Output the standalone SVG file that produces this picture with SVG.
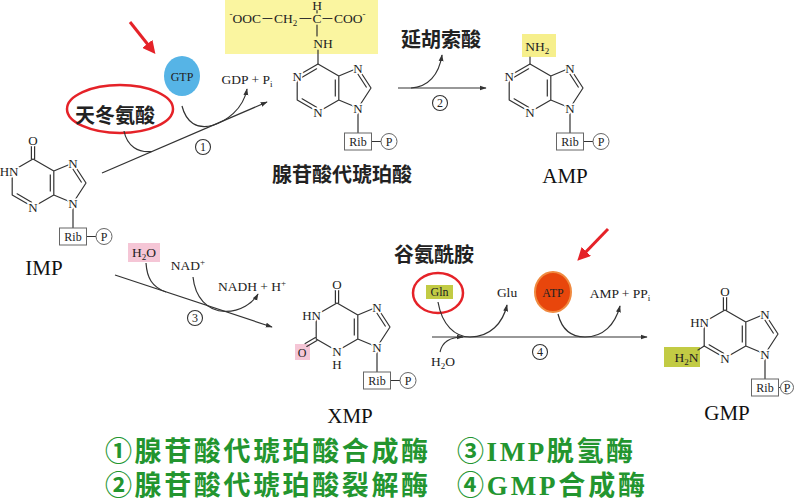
<svg xmlns="http://www.w3.org/2000/svg" width="796" height="502" viewBox="0 0 796 502">
<defs>
<style>
.b{stroke:#333;stroke-width:1.2;fill:none;stroke-linecap:round}
.a{font-family:"Liberation Serif",serif;font-size:13px;fill:#222;text-anchor:middle;stroke:#fff;stroke-width:3px;paint-order:stroke;stroke-linejoin:round}
.ar{font-family:"Liberation Serif",serif;font-size:13px;fill:#222;text-anchor:end;stroke:#fff;stroke-width:3px;paint-order:stroke;stroke-linejoin:round}
.t{font-family:"Liberation Serif",serif;font-size:13.5px;fill:#222}
.tm{font-family:"Liberation Serif",serif;font-size:12px;fill:#222;text-anchor:middle}
.lm{font-family:"Liberation Serif",serif;font-size:13.5px;fill:#222;text-anchor:middle}
.box{fill:#fff;stroke:#666;stroke-width:1}
.nm{font-family:"Liberation Serif",serif;font-size:21px;fill:#111;text-anchor:middle}
.cn{font-family:"Noto Sans CJK SC",sans-serif;font-size:20px;font-weight:700;fill:#222;text-anchor:middle}
.c{stroke:#333;stroke-width:1.2;fill:none}
.num{fill:#fff;stroke:#333;stroke-width:1.1}
.enz{font-family:"Noto Sans CJK SC",sans-serif;font-size:27px;font-weight:700;fill:#23952f}
.red{stroke:#e52228;stroke-width:3;fill:none}
.ring{stroke:#e52228;stroke-width:2.5;fill:none}
</style>
<path id="skel" stroke="#333" stroke-width="1.2" fill="none" stroke-linejoin="round" d="M0,-24 L-20.8,-12 L-20.8,12 L0,24 L20.8,12 L20.8,-12 Z M20.8,-12 L40,-20 L53,0 L40,20 L20.8,12 M17.3,-8.4 V8.4 M39.5,-14.5 L48.6,-0.5"/>
<marker id="ah" viewBox="0 0 10 10" refX="9" refY="5" markerWidth="7" markerHeight="7" markerUnits="userSpaceOnUse" orient="auto"><path d="M0,1.5 L10,5 L0,8.5 z" fill="#333"/></marker>
<marker id="rah" viewBox="0 0 10 10" refX="7" refY="5" markerWidth="13" markerHeight="13" markerUnits="userSpaceOnUse" orient="auto"><path d="M0,0 L10,5 L0,10 z" fill="#e52228"/></marker>
</defs>
<rect width="796" height="502" fill="#fff"/>

<!-- IMP -->
<g id="IMP">
<g transform="translate(33,183)">
<use href="#skel"/>
<path class="b" d="M-15.9,10.8 L-1.4,19.2 M-1.6,-24 V-37 M1.6,-24 V-37 M40,25 V45 M53.5,53.5 H63"/>
<text class="a" x="0" y="-38">O</text>
<text class="ar" x="-14.5" y="-7.5">HN</text>
<text class="a" x="0" y="28.5">N</text>
<text class="a" x="40" y="-15.5">N</text>
<text class="a" x="40" y="24.5">N</text>
<rect class="box" x="26.5" y="45" width="27" height="17"/>
<text class="tm" x="40" y="57.5">Rib</text>
<circle class="box" cx="71" cy="53.5" r="8"/>
<text class="tm" x="71" y="58">P</text>
</g>
<text class="nm" x="44" y="275">IMP</text>
</g>

<!-- Adenylosuccinate -->
<g id="adenylosuccinate">
<rect x="225" y="0" width="153" height="54" fill="#faf5a0"/>
<text class="t" x="261" y="23" font-size="14" text-anchor="end"><tspan font-size="9" dy="-6">-</tspan><tspan dy="6">OOC</tspan></text>
<path class="b" d="M263,18.5 H272 M300,18.5 H311 M323,18.5 H332 M317,10.5 V13 M317,25 V36 M318,50 V64"/>
<text class="t" x="274" y="23" font-size="14">CH<tspan font-size="9" dy="3">2</tspan></text>
<text class="lm" x="317" y="23" font-size="14">C</text>
<text class="lm" x="317" y="9.5" font-size="11">H</text>
<text class="t" x="334" y="23" font-size="14">COO<tspan font-size="9" dy="-6">-</tspan></text>
<text class="t" x="313.3" y="47.5" font-size="13">NH</text>
<g transform="translate(318,88)">
<use href="#skel"/>
<path class="b" d="M-1.4,-19.2 L-15.9,-10.8 M-15.9,10.8 L-1.4,19.2 M40,25 V45 M53.5,53.5 H63"/>
<text class="a" x="-20.8" y="-7.5">N</text>
<text class="a" x="0" y="28.5">N</text>
<text class="a" x="40" y="-15.5">N</text>
<text class="a" x="40" y="24.5">N</text>
<rect class="box" x="26.5" y="45" width="27" height="17"/>
<text class="tm" x="40" y="57.5">Rib</text>
<circle class="box" cx="71" cy="53.5" r="8"/>
<text class="tm" x="71" y="58">P</text>
</g>
<text class="cn" x="342" y="182">腺苷酸代琥珀酸</text>
</g>

<!-- AMP -->
<g id="AMP">
<rect x="522" y="34" width="34" height="23" fill="#f6ef8c"/>
<text class="t" x="525.3" y="51" font-size="13">NH<tspan font-size="9" dy="3">2</tspan></text>
<g transform="translate(530,88)">
<use href="#skel"/>
<path class="b" d="M0,-24 V-31 M-1.4,-19.2 L-15.9,-10.8 M-15.9,10.8 L-1.4,19.2 M40,25 V45 M53.5,53.5 H63"/>
<text class="a" x="-20.8" y="-7.5">N</text>
<text class="a" x="0" y="28.5">N</text>
<text class="a" x="40" y="-15.5">N</text>
<text class="a" x="40" y="24.5">N</text>
<rect class="box" x="26.5" y="45" width="27" height="17"/>
<text class="tm" x="40" y="57.5">Rib</text>
<circle class="box" cx="71" cy="53.5" r="8"/>
<text class="tm" x="71" y="58">P</text>
</g>
<text class="nm" x="565" y="183">AMP</text>
</g>

<!-- XMP -->
<g id="XMP">
<g transform="translate(337,327)">
<rect x="-42" y="17" width="15" height="16" fill="#f5c6d6"/>
<use href="#skel"/>
<path class="b" d="M-1.6,-24 V-37 M1.6,-24 V-37 M-20,13.4 L-30.2,19.4 M-21.6,10.6 L-31.8,16.6 M40,25 V45 M53.5,53.5 H63"/>
<text class="a" x="0" y="-38">O</text>
<text class="ar" x="-16" y="-7.5">HN</text>
<text class="tm" x="-35" y="30" font-size="13">O</text>
<text class="a" x="0" y="28.5">N</text>
<text class="a" x="0" y="42">H</text>
<text class="a" x="40" y="-15.5">N</text>
<text class="a" x="40" y="24.5">N</text>
<rect class="box" x="26.5" y="45" width="27" height="17"/>
<text class="tm" x="40" y="57.5">Rib</text>
<circle class="box" cx="71" cy="53.5" r="8"/>
<text class="tm" x="71" y="58">P</text>
</g>
<text class="nm" x="350" y="423">XMP</text>
</g>

<!-- GMP -->
<g id="GMP">
<g transform="translate(725,334)">
<rect x="-61" y="13" width="36" height="20" fill="#c2cb44"/>
<use href="#skel"/>
<path class="b" d="M-15.9,10.8 L-1.4,19.2 M-1.6,-24 V-37 M1.6,-24 V-37 M-20.8,12 L-27,16 M40,25 V45 M53.5,53.5 H55.5"/>
<text class="a" x="0" y="-38">O</text>
<text class="ar" x="-16" y="-7.5">HN</text>
<text class="t" x="-26.5" y="27.5" font-size="13" text-anchor="end">H<tspan font-size="9" dy="3">2</tspan><tspan dy="-3">N</tspan></text>
<text class="a" x="0" y="28.5">N</text>
<text class="a" x="40" y="-15.5">N</text>
<text class="a" x="40" y="24.5">N</text>
<rect class="box" x="26.5" y="45" width="27" height="17"/>
<text class="tm" x="40" y="57.5">Rib</text>
<circle class="box" cx="62" cy="53.5" r="6.5"/>
<text class="tm" x="62" y="57.5" font-size="11">P</text>
</g>
<text class="nm" x="727" y="420">GMP</text>
</g>

<!-- Cofactors and labels -->
<g id="GTP">
<ellipse cx="182" cy="76" rx="18" ry="20" fill="#56b4e6"/>
<text class="tm" x="182" y="80.5" fill="#1a2a3a">GTP</text>
</g>
<g id="GDP"><text class="lm" x="247" y="84">GDP + P<tspan font-size="9" dy="3">i</tspan></text></g>
<g id="aspartate">
<ellipse class="ring" cx="120" cy="109" rx="53" ry="24"/>
<text class="cn" x="115" y="123">天冬氨酸</text>
</g>
<g id="fumarate"><text class="cn" x="441" y="47">延胡索酸</text></g>
<g id="H2O-3">
<rect x="128" y="243" width="32" height="19" fill="#f5c6d6"/>
<text class="lm" x="144" y="257">H<tspan font-size="9" dy="3">2</tspan><tspan dy="-3">O</tspan></text>
</g>
<g id="NAD"><text class="lm" x="188" y="270">NAD<tspan font-size="9" dy="-5">+</tspan></text></g>
<g id="NADH"><text class="lm" x="252" y="291">NADH + H<tspan font-size="9" dy="-5">+</tspan></text></g>
<g id="glutamine-label"><text class="cn" x="434" y="262" font-size="21">谷氨酰胺</text></g>
<g id="Gln">
<rect x="426" y="285" width="27" height="14" fill="#c2cb44"/>
<text class="tm" x="439.5" y="296">Gln</text>
<ellipse class="ring" cx="438" cy="293" rx="25" ry="20"/>
</g>
<g id="Glu"><text class="lm" x="507" y="297">Glu</text></g>
<g id="ATP">
<ellipse cx="553" cy="292" rx="18" ry="20" fill="#e8460c" stroke="#f08a40" stroke-width="2"/>
<text class="tm" x="553" y="296.5" fill="#3a1205">ATP</text>
</g>
<g id="AMP-PPi"><text class="lm" x="620" y="298">AMP + PP<tspan font-size="9" dy="3">i</tspan></text></g>
<g id="H2O-4"><text class="lm" x="443" y="366">H<tspan font-size="9" dy="3">2</tspan><tspan dy="-3">O</tspan></text></g>

<!-- Connectors -->
<g id="connectors">
<path class="c" d="M102,173 L267,102" marker-end="url(#ah)"/>
<path class="c" d="M124,131 C127,146 138,153 152,151.5"/>
<path class="c" d="M182,106 C186,122 197,130 213,125.2 C226,121 243,110 247,89" marker-end="url(#ah)"/>
<path class="c" d="M398,88 H486" marker-end="url(#ah)"/>
<path class="c" d="M411,88 C428,87 439,75 442,55" marker-end="url(#ah)"/>
<path class="c" d="M115,275 L272,327" marker-end="url(#ah)"/>
<path class="c" d="M146,263 C147,278 152,287 166,292"/>
<path class="c" d="M193,277 C195,297 207,311 225,311.4 C240,311.8 253,303 258,294" marker-end="url(#ah)"/>
<path class="c" d="M432,337 H647" marker-end="url(#ah)"/>
<path class="c" d="M438,302 C442,325 455,337 470,337 C490,337 503,323 507,305" marker-end="url(#ah)"/>
<path class="c" d="M440,352 C442,343 449,337 463,337" marker-end="url(#ah)"/>
<path class="c" d="M558,314 C562,330 572,337 585,337 C603,337 615,325 620,306" marker-end="url(#ah)"/>
<path class="red" d="M130,22 L153,51" marker-end="url(#rah)"/>
<path class="red" d="M608,229 L580,258" marker-end="url(#rah)"/>
</g>

<!-- Step numbers -->
<g id="step-numbers">
<circle class="num" cx="203" cy="147" r="7.5"/><text class="tm" x="203" y="151" font-size="11">1</text>
<circle class="num" cx="440" cy="103" r="7.5"/><text class="tm" x="440" y="107" font-size="11">2</text>
<circle class="num" cx="195" cy="318" r="7.5"/><text class="tm" x="195" y="322" font-size="11">3</text>
<circle class="num" cx="540" cy="352" r="7.5"/><text class="tm" x="540" y="356" font-size="11">4</text>
</g>

<!-- Enzyme legend -->
<g id="legend">
<text class="enz" x="105" y="461" textLength="323" lengthAdjust="spacing">①腺苷酸代琥珀酸合成酶</text>
<text class="enz" x="105" y="495" textLength="323" lengthAdjust="spacing">②腺苷酸代琥珀酸裂解酶</text>
<text class="enz" x="457" y="461" textLength="176" lengthAdjust="spacing">③<tspan font-family="Liberation Serif">IMP</tspan>脱氢酶</text>
<text class="enz" x="457" y="495" textLength="188" lengthAdjust="spacing">④<tspan font-family="Liberation Serif">GMP</tspan>合成酶</text>
</g>
</svg>
